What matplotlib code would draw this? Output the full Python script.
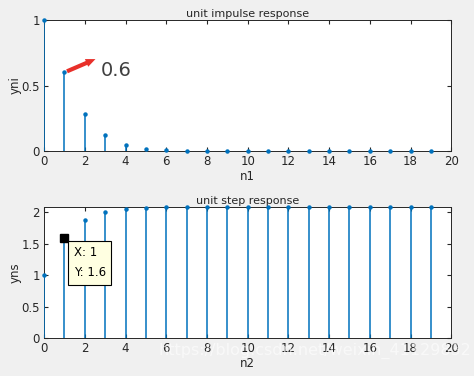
import numpy as np
import matplotlib.pyplot as plt

# sample index
n1 = list(range(20))
n2 = list(range(20))
# impulse response values
yni = [1.0, 0.6, 0.28, 0.12, 0.0496, 0.0202, 0.0081, 0.0033, 0.0013, 0.0005,
       0.0002, 0.0001, 0.0, 0.0, 0.0, 0.0, 0.0, 0.0, 0.0, 0.0]
# step response values
yns = [1.0, 1.6, 1.88, 2.0, 2.05, 2.07, 2.078, 2.081, 2.082, 2.083,
       2.083, 2.083, 2.083, 2.083, 2.083, 2.083, 2.083, 2.083, 2.083, 2.083]

BLUE = "#0072BD"
BG = "#F0F0F0"


def style_axes(ax):
    ax.set_facecolor("white")
    ax.tick_params(direction="in", top=True, right=True, length=3,
                   labelsize=8.5, colors="#262626", pad=3)
    for s in ax.spines.values():
        s.set_color("#262626")
        s.set_linewidth(0.7)
    ax.set_xlim(0, 20)
    ax.set_xticks(np.arange(0, 21, 2))


def stem(ax, x, y):
    ml, sl, bl = ax.stem(x, y, basefmt=" ")
    plt.setp(sl, color=BLUE, linewidth=1.1, zorder=3)
    plt.setp(ml, color=BLUE, markersize=2.2, markerfacecolor=BLUE, clip_on=False, zorder=4)


fig = plt.figure(figsize=(4.74, 3.76), dpi=100, facecolor=BG)

ax1 = fig.add_axes([0.093, 0.598, 0.859, 0.349])
style_axes(ax1)
stem(ax1, n1, yni)
ax1.set_ylim(0, 1)
ax1.set_yticks([0, 0.5, 1])
ax1.set_yticklabels(["0", "0.5", "1"])
ax1.set_title("unit impulse response", fontsize=8, pad=2, color="#262626")
ax1.set_xlabel("n1", fontsize=8.5, labelpad=1, color="#262626")
ax1.set_ylabel("yni", fontsize=8.5, labelpad=0, color="#262626")
ax1.annotate("", xy=(2.65, 0.71), xytext=(1.0, 0.6),
             arrowprops=dict(arrowstyle="simple,head_length=0.7,head_width=0.6,tail_width=0.3",
                             color="#E8302A", lw=0))
ax1.text(2.8, 0.615, "0.6", fontsize=14, color="#404040", va="center", ha="left")

ax2 = fig.add_axes([0.093, 0.101, 0.859, 0.348])
style_axes(ax2)
stem(ax2, n2, yns)
ax2.set_ylim(0, 2.083)
ax2.set_yticks([0, 0.5, 1, 1.5, 2])
ax2.set_yticklabels(["0", "0.5", "1", "1.5", "2"])
ax2.set_title("unit step response", fontsize=8, pad=2, color="#262626")
ax2.set_xlabel("n2", fontsize=8.5, labelpad=1, color="#262626")
ax2.set_ylabel("yns", fontsize=8.5, labelpad=0, color="#262626")
ax2.plot([n2[1]], [yns[1]], marker="s", color="black", markersize=6, zorder=5)
ax2.text(1.45, 1.2, "X: 1\nY: 1.6", fontsize=8.5, color="black", va="center", ha="left",
         linespacing=1.75,
         bbox=dict(boxstyle="square,pad=0.45", facecolor="#FFFFE1", edgecolor="black", linewidth=0.8),
         zorder=6)

fig.text(0.995, 0.066, "https://blog.csdn.net/weixin_41129832", fontsize=11.5, ha="right",
         va="center", color="white", alpha=0.6)

fig.savefig("out.png", dpi=100, facecolor=BG)
